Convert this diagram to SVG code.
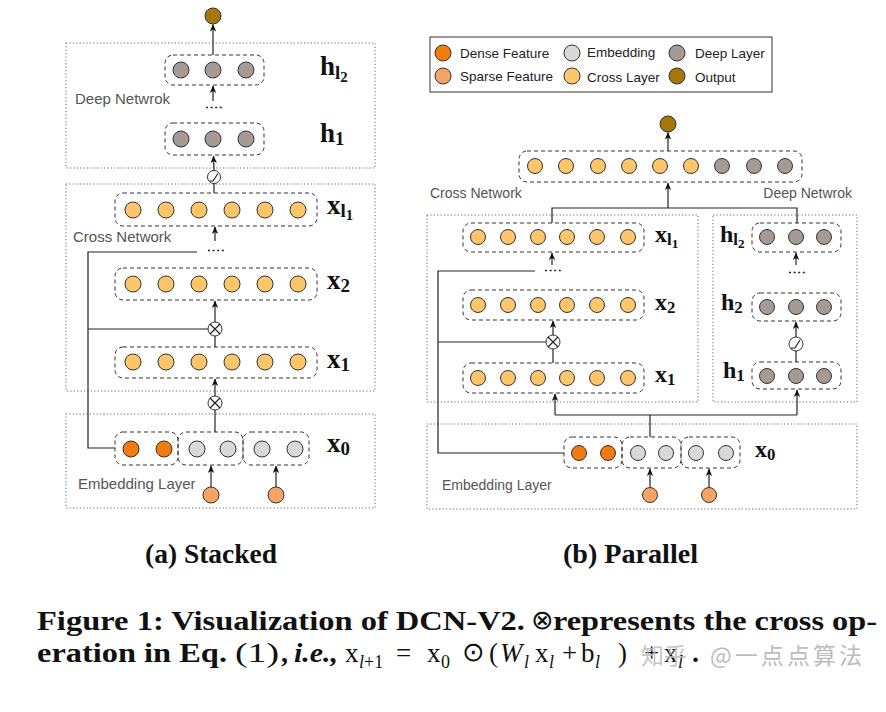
<svg xmlns="http://www.w3.org/2000/svg" width="886" height="712" viewBox="0 0 886 712">
<defs>
<marker id="ah" markerUnits="userSpaceOnUse" markerWidth="8" markerHeight="8" viewBox="0 0 8 8" refX="7" refY="4" orient="auto">
<path d="M0,0.8 L7.5,4 L0,7.2 L2,4 z" fill="#111"/>
</marker>
</defs>
<style>
.area{fill:none;stroke:#666;stroke-width:1;stroke-dasharray:1.2 2.2}
.grp{fill:none;stroke:#333;stroke-width:1;stroke-dasharray:4 3}
.ln{fill:none;stroke:#222;stroke-width:1.2}
.ar{fill:none;stroke:#222;stroke-width:1.2;marker-end:url(#ah)}
.dots{fill:none;stroke:#222;stroke-width:1.3;stroke-dasharray:2 2.6}
.op{fill:#fff;stroke:#333;stroke-width:1}
.dense{fill:#f27a0e;stroke:#333;stroke-width:1}
.sparse{fill:#f7a366;stroke:#333;stroke-width:1}
.emb{fill:#d9d9d9;stroke:#333;stroke-width:1}
.cross{fill:#fdc66b;stroke:#333;stroke-width:1}
.deep{fill:#a39b94;stroke:#333;stroke-width:1}
.out{fill:#a6760b;stroke:#333;stroke-width:1}
.t{font-family:"Liberation Sans",Arial,sans-serif;font-size:15px;fill:#555}
.tr{font-family:"Liberation Sans",Arial,sans-serif;font-size:14px;fill:#555}
.lg{font-family:"Liberation Sans",Arial,sans-serif;font-size:13.5px;fill:#222}
.lbl{font-family:"Liberation Serif","Times New Roman",serif;font-weight:bold;font-size:27px;fill:#111}
.lbr{font-family:"Liberation Serif","Times New Roman",serif;font-weight:bold;font-size:24px;fill:#111}
.s1{font-size:70%}
.s2{font-size:55%}
.cap{font-family:"Liberation Serif","Times New Roman",serif;font-size:28px;fill:#111}
.b{font-weight:bold}
.m{font-family:"Liberation Serif","Times New Roman",serif;font-size:27px;fill:#111}
.ms{font-family:"Liberation Serif","Times New Roman",serif;font-size:18px;fill:#111}
.wm{font-family:"Noto Sans CJK SC","Liberation Sans",sans-serif;font-size:23px;fill:#bcbcbc}
</style>

<!-- ===== (a) Stacked ===== -->
<g id="a-deep-area"><rect class="area" x="66" y="43" width="309" height="125"/><text class="t" x="75" y="104">Deep Netwrok</text></g>
<g id="a-cross-area"><rect class="area" x="66" y="184" width="309" height="207"/><text class="t" x="73" y="242">Cross Network</text></g>
<g id="a-emb-area"><rect class="area" x="66" y="414" width="309" height="94"/><text class="t" x="78" y="489">Embedding Layer</text></g>

<g id="a-output"><circle class="out" cx="213" cy="16" r="8"/></g>
<g id="a-hl2"><rect class="grp" x="165" y="55" width="99" height="30" rx="8"/>
<circle class="deep" cx="181" cy="70" r="8"/><circle class="deep" cx="213" cy="70" r="8"/><circle class="deep" cx="246" cy="70" r="8"/>
<text class="lbl" x="320" y="75">h<tspan class="s1" dy="4">l</tspan><tspan class="s2" dy="3">2</tspan></text></g>
<g id="a-h1"><rect class="grp" x="165" y="123" width="99" height="32" rx="8"/>
<circle class="deep" cx="181" cy="139" r="8"/><circle class="deep" cx="213" cy="139" r="8"/><circle class="deep" cx="246" cy="139" r="8"/>
<text class="lbl" x="320" y="142">h<tspan class="s1" dy="3">1</tspan></text></g>
<g id="a-xl1"><rect class="grp" x="115" y="193" width="202" height="33" rx="8"/>
<circle class="cross" cx="133" cy="210" r="8"/><circle class="cross" cx="166" cy="210" r="8"/><circle class="cross" cx="199" cy="210" r="8"/><circle class="cross" cx="232" cy="210" r="8"/><circle class="cross" cx="265" cy="210" r="8"/><circle class="cross" cx="298" cy="210" r="8"/>
<text class="lbl" x="327" y="214">x<tspan class="s1" dy="3">l</tspan><tspan class="s2" dy="3">1</tspan></text></g>
<g id="a-x2"><rect class="grp" x="115" y="268" width="202" height="32" rx="8"/>
<circle class="cross" cx="133" cy="284" r="8"/><circle class="cross" cx="166" cy="284" r="8"/><circle class="cross" cx="199" cy="284" r="8"/><circle class="cross" cx="232" cy="284" r="8"/><circle class="cross" cx="265" cy="284" r="8"/><circle class="cross" cx="298" cy="284" r="8"/>
<text class="lbl" x="327" y="289">x<tspan class="s1" dy="3">2</tspan></text></g>
<g id="a-x1"><rect class="grp" x="115" y="347" width="202" height="31" rx="8"/>
<circle class="cross" cx="133" cy="362" r="8"/><circle class="cross" cx="166" cy="362" r="8"/><circle class="cross" cx="199" cy="362" r="8"/><circle class="cross" cx="232" cy="362" r="8"/><circle class="cross" cx="265" cy="362" r="8"/><circle class="cross" cx="298" cy="362" r="8"/>
<text class="lbl" x="327" y="368">x<tspan class="s1" dy="3">1</tspan></text></g>
<g id="a-x0">
<rect class="grp" x="115" y="432" width="63" height="33" rx="8"/><rect class="grp" x="178" y="432" width="65" height="33" rx="8"/><rect class="grp" x="243" y="432" width="66" height="33" rx="8"/>
<circle class="dense" cx="131" cy="449" r="8"/><circle class="dense" cx="164" cy="449" r="8"/>
<circle class="emb" cx="197" cy="449" r="8"/><circle class="emb" cx="228" cy="449" r="8"/>
<circle class="emb" cx="262" cy="449" r="8"/><circle class="emb" cx="295" cy="449" r="8"/>
<text class="lbl" x="327" y="452">x<tspan class="s1" dy="3">0</tspan></text></g>
<g id="a-sparse"><circle class="sparse" cx="211" cy="495" r="8"/><circle class="sparse" cx="276" cy="495" r="8"/></g>
<g id="a-act"><circle class="op" cx="214" cy="177" r="6.5"/><path class="ln" d="M209.5,181 L213,181 L218,173.5" stroke-width="1"/></g>
<g id="a-cross-op2"><circle class="op" cx="215" cy="329" r="7"/><path class="ln" d="M210,324 L220,334 M220,324 L210,334" stroke-width="1"/></g>
<g id="a-cross-op1"><circle class="op" cx="215" cy="403" r="7"/><path class="ln" d="M210,398 L220,408 M220,398 L210,408" stroke-width="1"/></g>

<g id="a-connectors">
<line class="ar" x1="213" y1="55" x2="213" y2="24.5"/>
<line class="ar" x1="213" y1="101" x2="213" y2="86"/>
<line class="dots" x1="206" y1="107.5" x2="222" y2="107.5"/>
<line class="ar" x1="214" y1="170.5" x2="213.5" y2="156"/>
<line class="ln" x1="214" y1="183.5" x2="214" y2="193"/>
<line class="ar" x1="215" y1="241" x2="215" y2="227"/>
<line class="dots" x1="208" y1="250.5" x2="224" y2="250.5"/>
<polyline class="ln" points="197,252 88,252 88,448 115,448"/>
<line class="ln" x1="88" y1="329" x2="208" y2="329"/>
<line class="ar" x1="215" y1="322" x2="215" y2="301"/>
<line class="ln" x1="215" y1="336" x2="215" y2="347"/>
<line class="ar" x1="215" y1="396" x2="215" y2="379"/>
<line class="ln" x1="215" y1="410" x2="215" y2="432"/>
<line class="ar" x1="211" y1="487" x2="211" y2="466"/>
<line class="ar" x1="276" y1="487" x2="276" y2="466"/>
</g>

<!-- ===== Legend ===== -->
<g id="legend">
<rect x="430" y="37" width="342" height="55" fill="#fff" stroke="#333" stroke-width="1"/>
<circle class="dense" cx="443" cy="53" r="8"/><text class="lg" x="460" y="58">Dense Feature</text>
<circle class="sparse" cx="443" cy="76" r="8"/><text class="lg" x="460" y="81">Sparse Feature</text>
<circle class="emb" cx="572" cy="53" r="8"/><text class="lg" x="587" y="57">Embedding</text>
<circle class="cross" cx="572" cy="76" r="8"/><text class="lg" x="587" y="82">Cross Layer</text>
<circle class="deep" cx="677" cy="53" r="8"/><text class="lg" x="695" y="58">Deep Layer</text>
<circle class="out" cx="677" cy="76" r="8"/><text class="lg" x="695" y="82">Output</text>
</g>

<!-- ===== (b) Parallel ===== -->
<g id="b-cross-area"><rect class="area" x="427" y="215" width="271" height="187"/><text class="tr" x="430" y="198">Cross Network</text></g>
<g id="b-deep-area"><rect class="area" x="713" y="215" width="144" height="187"/><text class="tr" x="852" y="198" text-anchor="end">Deep Netwrok</text></g>
<g id="b-emb-area"><rect class="area" x="427" y="424" width="430" height="85"/><text class="tr" x="442" y="490">Embedding Layer</text></g>

<g id="b-output"><circle class="out" cx="668" cy="124" r="8"/></g>
<g id="b-concat"><rect class="grp" x="519" y="151" width="283" height="31" rx="8"/>
<circle class="cross" cx="535" cy="166" r="7.5"/><circle class="cross" cx="566" cy="166" r="7.5"/><circle class="cross" cx="598" cy="166" r="7.5"/><circle class="cross" cx="629" cy="166" r="7.5"/><circle class="cross" cx="660" cy="166" r="7.5"/><circle class="cross" cx="691" cy="166" r="7.5"/>
<circle class="deep" cx="722" cy="166" r="7.5"/><circle class="deep" cx="754" cy="166" r="7.5"/><circle class="deep" cx="785" cy="166" r="7.5"/></g>
<g id="b-xl1"><rect class="grp" x="463" y="223" width="181" height="29" rx="8"/>
<circle class="cross" cx="478" cy="237" r="7.5"/><circle class="cross" cx="508" cy="237" r="7.5"/><circle class="cross" cx="538" cy="237" r="7.5"/><circle class="cross" cx="567" cy="237" r="7.5"/><circle class="cross" cx="597" cy="237" r="7.5"/><circle class="cross" cx="628" cy="237" r="7.5"/>
<text class="lbr" x="655" y="242">x<tspan class="s1" dy="3">l</tspan><tspan class="s2" dy="2.5">1</tspan></text></g>
<g id="b-x2"><rect class="grp" x="463" y="290" width="181" height="30" rx="8"/>
<circle class="cross" cx="478" cy="305" r="7.5"/><circle class="cross" cx="508" cy="305" r="7.5"/><circle class="cross" cx="538" cy="305" r="7.5"/><circle class="cross" cx="567" cy="305" r="7.5"/><circle class="cross" cx="597" cy="305" r="7.5"/><circle class="cross" cx="628" cy="305" r="7.5"/>
<text class="lbr" x="655" y="310">x<tspan class="s1" dy="3">2</tspan></text></g>
<g id="b-x1"><rect class="grp" x="463" y="363" width="181" height="30" rx="8"/>
<circle class="cross" cx="478" cy="378" r="7.5"/><circle class="cross" cx="508" cy="378" r="7.5"/><circle class="cross" cx="538" cy="378" r="7.5"/><circle class="cross" cx="567" cy="378" r="7.5"/><circle class="cross" cx="597" cy="378" r="7.5"/><circle class="cross" cx="628" cy="378" r="7.5"/>
<text class="lbr" x="655" y="382">x<tspan class="s1" dy="3">1</tspan></text></g>
<g id="b-hl2"><rect class="grp" x="752" y="223" width="89" height="29" rx="8"/>
<circle class="deep" cx="767" cy="237" r="7.5"/><circle class="deep" cx="796" cy="237" r="7.5"/><circle class="deep" cx="824" cy="237" r="7.5"/>
<text class="lbr" x="720" y="242">h<tspan class="s1" dy="3">l</tspan><tspan class="s2" dy="2.5">2</tspan></text></g>
<g id="b-h2"><rect class="grp" x="752" y="293" width="89" height="28" rx="8"/>
<circle class="deep" cx="767" cy="307" r="7.5"/><circle class="deep" cx="796" cy="307" r="7.5"/><circle class="deep" cx="824" cy="307" r="7.5"/>
<text class="lbr" x="721" y="310">h<tspan class="s1" dy="3">2</tspan></text></g>
<g id="b-h1"><rect class="grp" x="752" y="362" width="89" height="27" rx="8"/>
<circle class="deep" cx="767" cy="376" r="7.5"/><circle class="deep" cx="796" cy="376" r="7.5"/><circle class="deep" cx="824" cy="376" r="7.5"/>
<text class="lbr" x="723" y="378">h<tspan class="s1" dy="3">1</tspan></text></g>
<g id="b-x0">
<rect class="grp" x="564" y="437" width="58" height="31" rx="8"/><rect class="grp" x="622" y="437" width="59" height="31" rx="8"/><rect class="grp" x="681" y="437" width="59" height="31" rx="8"/>
<circle class="dense" cx="579" cy="453" r="7.5"/><circle class="dense" cx="608" cy="453" r="7.5"/>
<circle class="emb" cx="638" cy="453" r="7.5"/><circle class="emb" cx="666" cy="453" r="7.5"/>
<circle class="emb" cx="696" cy="453" r="7.5"/><circle class="emb" cx="726" cy="453" r="7.5"/>
<text class="lbr" x="755" y="457">x<tspan class="s1" dy="3">0</tspan></text></g>
<g id="b-sparse"><circle class="sparse" cx="650" cy="495" r="7.5"/><circle class="sparse" cx="709" cy="495" r="7.5"/></g>
<g id="b-cross-op"><circle class="op" cx="553" cy="342" r="7"/><path class="ln" d="M548,337 L558,347 M558,337 L548,347" stroke-width="1"/></g>
<g id="b-act"><circle class="op" cx="796" cy="344" r="7"/><path class="ln" d="M791,348 L795,348 L800,340" stroke-width="1"/></g>

<g id="b-connectors">
<line class="ar" x1="668" y1="151" x2="668" y2="132.5"/>
<line class="ar" x1="668" y1="208" x2="668" y2="183"/>
<polyline class="ln" points="552,223 552,208 797,208 797,223"/>
<line class="ar" x1="552" y1="265" x2="552" y2="253"/>
<line class="dots" x1="545" y1="270.5" x2="561" y2="270.5"/>
<polyline class="ln" points="535,271 438,271 438,453 564,453"/>
<line class="ln" x1="438" y1="342" x2="546" y2="342"/>
<line class="ar" x1="553" y1="335" x2="553" y2="321"/>
<line class="ln" x1="553" y1="349" x2="553" y2="363"/>
<line class="ln" x1="650" y1="437" x2="650" y2="415"/>
<polyline class="ln" points="555,415 797,415"/>
<line class="ar" x1="555" y1="415" x2="555" y2="394"/>
<line class="ar" x1="797" y1="415" x2="797" y2="390"/>
<line class="ar" x1="796" y1="265" x2="796" y2="253"/>
<line class="dots" x1="789" y1="272.5" x2="805" y2="272.5"/>
<line class="ar" x1="796" y1="337" x2="796" y2="322"/>
<line class="ln" x1="796" y1="351" x2="796" y2="362"/>
<line class="ar" x1="650" y1="487" x2="650" y2="469"/>
<line class="ar" x1="709" y1="487" x2="709" y2="469"/>
</g>

<!-- ===== Captions ===== -->
<text class="cap b" x="145" y="563" textLength="132" lengthAdjust="spacingAndGlyphs">(a) Stacked</text>
<text class="cap b" x="563" y="563" textLength="135" lengthAdjust="spacingAndGlyphs">(b) Parallel</text>

<text class="cap b" x="37" y="630" textLength="488" lengthAdjust="spacingAndGlyphs">Figure 1: Visualization of DCN-V2.</text>
<text class="m" x="531" y="629" font-size="21">⊗</text>
<text class="cap b" x="553" y="630" textLength="324" lengthAdjust="spacingAndGlyphs">represents the cross op-</text>

<text class="cap b" x="37" y="662" textLength="190" lengthAdjust="spacingAndGlyphs">eration in Eq.</text>
<text class="m" x="235" y="662" textLength="44" lengthAdjust="spacingAndGlyphs">(1)</text>
<text class="cap b" x="281" y="662">,</text>
<text class="cap b" x="294" y="662" font-style="italic" textLength="44" lengthAdjust="spacingAndGlyphs">i.e.,</text>
<text class="m" x="345" y="662">x</text>
<text class="ms" x="359" y="668"><tspan font-style="italic">l</tspan>+1</text>
<text class="m" x="396" y="662">=</text>
<text class="m" x="427" y="662">x</text>
<text class="ms" x="441" y="668">0</text>
<text class="m" x="462" y="661" font-size="22">⊙</text>
<text class="m" x="489" y="662">(</text>
<text class="m" x="500" y="662" font-style="italic">W</text>
<text class="ms" x="524" y="668" font-style="italic">l</text>
<text class="m" x="535" y="662">x</text>
<text class="ms" x="549" y="668" font-style="italic">l</text>
<text class="m" x="562" y="662">+</text>
<text class="m" x="581" y="662">b</text>
<text class="ms" x="595" y="668" font-style="italic">l</text>
<text class="m" x="618" y="662">)</text>
<text class="m" x="644" y="662">+</text>
<text class="m" x="664" y="662">x</text>
<text class="ms" x="678" y="668" font-style="italic">l</text>
<text class="cap b" x="692" y="662">.</text>
<text class="wm" x="641" y="664" opacity="0.85">知乎</text>
<text class="wm" x="710" y="664" textLength="152">@一点点算法</text>
</svg>
